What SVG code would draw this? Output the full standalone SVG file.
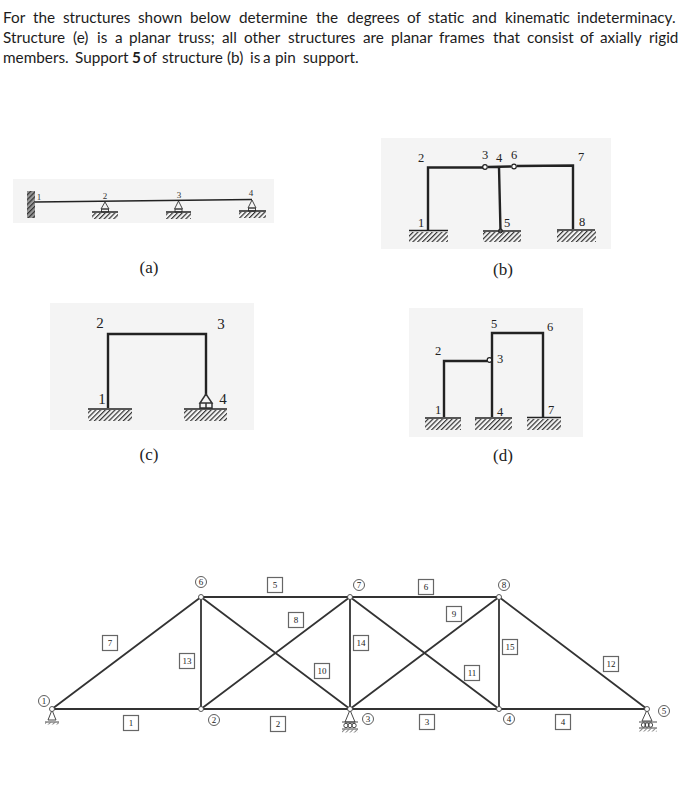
<svg xmlns="http://www.w3.org/2000/svg" width="695" height="786" viewBox="0 0 695 786">
<style>
.body{font:15.3px Lato,"Open Sans",sans-serif;fill:#1c1c1c}
.cap{font:17px "Liberation Serif",serif;fill:#222;text-anchor:middle}
.l{font:12.5px "Liberation Serif",serif;fill:#222;text-anchor:middle}
.lc{font:15px "Liberation Serif",serif;fill:#222;text-anchor:middle}
.la{font:9px "Liberation Serif",serif;fill:#333;text-anchor:middle}
.t{font:9px "Liberation Serif",serif;fill:#222;text-anchor:middle}
.bg{fill:#f4f4f4}
.m{stroke:#222;fill:none;stroke-width:2.4}
.tm{stroke:#333;fill:none;stroke-width:1.8}
.g{stroke:#222;fill:none;stroke-width:1.3}
.h{fill:url(#hatch)}
.hinge{fill:#fff;stroke:#222;stroke-width:1.2}
.box{fill:#fff;stroke:#666;stroke-width:1.2}
.nc{fill:#fff;stroke:#333;stroke-width:.8}
.n{fill:#fff;stroke:#444;stroke-width:.9}
.sup{fill:none;stroke:#333;stroke-width:.9}
</style>
<defs>
<pattern id="hatch" width="3.4" height="3.4" patternUnits="userSpaceOnUse" patternTransform="rotate(45)"><rect width="1.2" height="3.4" fill="#333"/></pattern>
<pattern id="hatchT" width="3" height="3" patternUnits="userSpaceOnUse" patternTransform="rotate(45)"><rect width=".7" height="3" fill="#555"/></pattern>
</defs>
<rect width="695" height="786" fill="#fff"/>
<g id="statement" class="body">
<text y="23"><tspan x="3">For</tspan><tspan x="33">the</tspan><tspan x="63">structures</tspan><tspan x="138">shown</tspan><tspan x="190">below</tspan><tspan x="239">determine</tspan><tspan x="316">the</tspan><tspan x="347">degrees</tspan><tspan x="407">of</tspan><tspan x="428">static</tspan><tspan x="472">and</tspan><tspan x="505">kinematic</tspan><tspan x="577">indeterminacy.</tspan></text>
<text y="43"><tspan x="3">Structure</tspan><tspan x="73">(e)</tspan><tspan x="97">is</tspan><tspan x="115">a</tspan><tspan x="129">planar</tspan><tspan x="178">truss;</tspan><tspan x="222">all</tspan><tspan x="244">other</tspan><tspan x="288">structures</tspan><tspan x="363">are</tspan><tspan x="391">planar</tspan><tspan x="439">frames</tspan><tspan x="493">that</tspan><tspan x="527">consist</tspan><tspan x="580">of</tspan><tspan x="600">axially</tspan><tspan x="649">rigid</tspan></text>
<text y="63"><tspan x="3">members.</tspan><tspan x="75">Support</tspan><tspan x="132" font-weight="bold">5</tspan><tspan x="143">of</tspan><tspan x="162">structure</tspan><tspan x="227">(b)</tspan><tspan x="250">is</tspan><tspan x="263">a</tspan><tspan x="275">pin</tspan><tspan x="303">support.</tspan></text>
</g>
<g id="structure-a">
<rect class="bg" x="13" y="179" width="261" height="44"/>
<rect x="27" y="191" width="8" height="27" fill="#999"/><rect class="h" x="27" y="191" width="8" height="27"/>
<path class="m" style="stroke-width:1.6" d="M35 202 252 199.500"/>
<g class="sup"><path d="M105 202 101 209H109ZM178.500 201 174.500 209H182.500ZM252 200 248 208H256Z"/><path d="M101.500 209h7v3h-7zM175 209h7v3h-7zM248.500 208h7v3h-7z"/></g>
<path class="g" d="M92 212H118M166 212H191M239 211H266"/>
<rect class="h" x="92" y="213" width="26" height="6"/><rect class="h" x="166" y="213" width="25" height="6"/><rect class="h" x="239" y="212" width="27" height="6"/>
<text class="la" x="39" y="200">1</text><text class="la" x="105" y="199">2</text><text class="la" x="179" y="198">3</text><text class="la" x="251" y="196">4</text>
<text class="cap" x="149" y="273">(a)</text>
</g>
<g id="structure-b">
<rect class="bg" x="381" y="138" width="230" height="111"/>
<path class="m" d="M428 230V167.500H485M488 167 511 166.500M517 166 573 165.500V229M499 167 500.500 231"/>
<circle class="hinge" cx="485" cy="167" r="2.300"/><circle class="hinge" cx="514" cy="166.500" r="2.300"/><circle class="hinge" cx="500.500" cy="231" r="1.800"/>
<path class="g" d="M409 230.500H448M483 231H521M557 230H595"/>
<rect class="h" x="409" y="232" width="39" height="10"/><rect class="h" x="483" y="232" width="38" height="10"/><rect class="h" x="557" y="231" width="39" height="11"/>
<text class="l" x="421" y="162">2</text><text class="l" x="485" y="159">3</text><text class="l" x="499" y="162">4</text><text class="l" x="514" y="159">6</text><text class="l" x="581" y="161">7</text><text class="l" x="421" y="227">1</text><text class="l" x="507" y="227">5</text><text class="l" x="582" y="226">8</text>
<text class="cap" x="503" y="275">(b)</text>
</g>
<g id="structure-c">
<rect class="bg" x="50" y="303" width="204" height="127"/>
<path class="m" d="M108 408V334H206V395"/>
<path class="sup" style="stroke-width:1.500" d="M206 394 200 403H212ZM200 403h12v5h-12zM206 403v5"/>
<path class="g" d="M88 409H132M184 409H227"/>
<rect class="h" x="88" y="410" width="44" height="11"/><rect class="h" x="184" y="410" width="43" height="11"/>
<text class="lc" x="100" y="328">2</text><text class="lc" x="221" y="329">3</text><text class="lc" x="102" y="404">1</text><text class="lc" x="223" y="404">4</text>
<text class="cap" x="149" y="460">(c)</text>
</g>
<g id="structure-d">
<rect class="bg" x="409" y="308" width="174" height="129"/>
<path class="m" d="M444 417V361H487M492 417V333H543V417"/>
<circle class="hinge" cx="489.500" cy="360" r="2.300"/>
<path class="g" d="M425 418H461M475 418H512M527 417.500H561"/>
<rect class="h" x="425" y="419" width="36" height="11"/><rect class="h" x="475" y="419" width="37" height="11"/><rect class="h" x="527" y="419" width="34" height="11"/>
<text class="l" x="438" y="355">2</text><text class="l" x="494" y="328">5</text><text class="l" x="550" y="331">6</text><text class="l" x="500" y="363">3</text><text class="l" x="438" y="414">1</text><text class="l" x="500" y="416">4</text><text class="l" x="551" y="414">7</text>
<text class="cap" x="503" y="461">(d)</text>
</g>
<g id="connectors">
<path class="tm" d="M52 709H647M201 597H499M52 709 201 597M201 597V709M201 597 350 709M201 709 350 597M350 597V709M350 597 499 709M350 709 499 597M499 597V709M499 597 647 709"/>
</g>
<g id="supports">
<path class="sup" d="M52 710 48 720H56ZM45 722H59"/><rect x="45" y="722.500" width="14" height="2" fill="url(#hatchT)"/>
<path class="sup" d="M350 710 345 722H355ZM342 722H358M342 729H358"/><circle class="sup" cx="346" cy="725.500" r="2.200"/><circle class="sup" cx="350" cy="725.500" r="2.200"/><circle class="sup" cx="354" cy="725.500" r="2.200"/><rect x="342" y="729.500" width="16" height="3" fill="url(#hatchT)"/>
<path class="sup" d="M647 710 642 721H652ZM639 722H657M639 728H657"/><circle class="sup" cx="643.500" cy="725" r="2.200"/><circle class="sup" cx="647" cy="725" r="2.200"/><circle class="sup" cx="650.500" cy="725" r="2.200"/><rect x="639" y="728.500" width="18" height="3" fill="url(#hatchT)"/>
</g>
<g id="node-1"><circle class="n" cx="52" cy="709" r="2.500"/><circle class="nc" cx="44" cy="701" r="5.500"/><text class="t" x="44" y="704">1</text></g>
<g id="node-2"><circle class="n" cx="201" cy="709" r="2.500"/><circle class="nc" cx="214" cy="720" r="5.500"/><text class="t" x="214" y="723">2</text></g>
<g id="node-3"><circle class="n" cx="350" cy="709" r="2.500"/><circle class="nc" cx="368" cy="719" r="5.500"/><text class="t" x="368" y="722">3</text></g>
<g id="node-4"><circle class="n" cx="499" cy="709" r="2.500"/><circle class="nc" cx="509" cy="719" r="5.500"/><text class="t" x="509" y="722">4</text></g>
<g id="node-5"><circle class="n" cx="647" cy="709" r="2.500"/><circle class="nc" cx="664" cy="711" r="5.500"/><text class="t" x="664" y="714">5</text></g>
<g id="node-6"><circle class="n" cx="201" cy="597" r="2.500"/><circle class="nc" cx="201" cy="582" r="5.500"/><text class="t" x="201" y="585">6</text></g>
<g id="node-7"><circle class="n" cx="350" cy="597" r="2.500"/><circle class="nc" cx="359" cy="585" r="5.500"/><text class="t" x="359" y="588">7</text></g>
<g id="node-8"><circle class="n" cx="499" cy="597" r="2.500"/><circle class="nc" cx="504" cy="585" r="5.500"/><text class="t" x="504" y="588">8</text></g>
<g id="member-1"><rect class="box" x="123.500" y="715.500" width="15" height="15"/><text class="t" x="131" y="726">1</text></g>
<g id="member-2"><rect class="box" x="270.500" y="716.500" width="15" height="15"/><text class="t" x="278" y="727">2</text></g>
<g id="member-3"><rect class="box" x="419.500" y="714.500" width="15" height="15"/><text class="t" x="427" y="725">3</text></g>
<g id="member-4"><rect class="box" x="555.500" y="714.500" width="15" height="15"/><text class="t" x="563" y="725">4</text></g>
<g id="member-5"><rect class="box" x="267.500" y="577.500" width="15" height="15"/><text class="t" x="275" y="588">5</text></g>
<g id="member-6"><rect class="box" x="418.500" y="579.500" width="15" height="15"/><text class="t" x="426" y="590">6</text></g>
<g id="member-7"><rect class="box" x="102.500" y="635.500" width="15" height="15"/><text class="t" x="110" y="646">7</text></g>
<g id="member-8"><rect class="box" x="288.500" y="612.500" width="15" height="15"/><text class="t" x="296" y="623">8</text></g>
<g id="member-9"><rect class="box" x="446.500" y="606.500" width="15" height="15"/><text class="t" x="454" y="617">9</text></g>
<g id="member-10"><rect class="box" x="314.500" y="663.500" width="15" height="15"/><text class="t" x="322" y="674">10</text></g>
<g id="member-11"><rect class="box" x="464.500" y="665.500" width="15" height="15"/><text class="t" x="472" y="676">11</text></g>
<g id="member-12"><rect class="box" x="603.500" y="656.500" width="15" height="15"/><text class="t" x="611" y="667">12</text></g>
<g id="member-13"><rect class="box" x="179.500" y="653.500" width="15" height="15"/><text class="t" x="187" y="664">13</text></g>
<g id="member-14"><rect class="box" x="353.500" y="635.500" width="15" height="15"/><text class="t" x="361" y="646">14</text></g>
<g id="member-15"><rect class="box" x="502.500" y="639.500" width="15" height="15"/><text class="t" x="510" y="650">15</text></g>
</svg>
